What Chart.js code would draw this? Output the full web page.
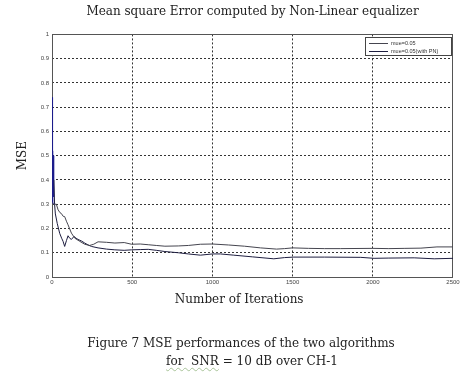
<!DOCTYPE html>
<html>
<head>
<meta charset="utf-8">
<script src="https://cdn.jsdelivr.net/npm/chart.js@4/dist/chart.umd.min.js"></script>
<style>
  html, body { margin: 0; padding: 0; background: #fff; }
  #wrap { position: relative; width: 474px; height: 379px; overflow: hidden; }
  #c { position: absolute; left: 0; top: 0; }
  .cap { position: absolute; width: 474px; text-align: center; font-family: 'DejaVu Serif', serif; font-size: 12px; line-height: 18px; color: #222; white-space: pre; }
  .sp { text-decoration: underline wavy #a9c49a; text-decoration-thickness: 1px; text-underline-offset: 2px; }
</style>
</head>
<body>
<div id="wrap">
  <canvas id="c" width="474" height="379"></canvas>
  <div class="cap" id="cap1" style="left:4px; top:334px;"></div>
  <div class="cap" id="cap2" style="left:15px; top:352px;"></div>
</div>
<script>
// ---- data ----
const seriesLabels = ['mue=0.05', 'mue=0.05(with PN)'];
const iterA = [0, 2, 4, 6, 9, 27, 38, 50, 58, 70, 79, 90, 100, 121, 142, 173, 204, 235, 260, 287, 340, 392, 450, 496, 550, 600, 650, 704, 787, 850, 925, 1000, 1100, 1200, 1300, 1400, 1450, 1500, 1600, 1700, 1800, 2000, 2100, 2200, 2300, 2400, 2500];
const mseA  = [0.52, 0.36, 0.44, 0.31, 0.30, 0.30, 0.277, 0.265, 0.262, 0.25, 0.249, 0.23, 0.215, 0.181, 0.16, 0.147, 0.135, 0.13, 0.135, 0.145, 0.143, 0.14, 0.142, 0.135, 0.136, 0.133, 0.13, 0.127, 0.128, 0.13, 0.135, 0.136, 0.132, 0.127, 0.12, 0.115, 0.117, 0.12, 0.118, 0.117, 0.117, 0.118, 0.117, 0.118, 0.119, 0.124, 0.124];
const iterB = [1, 2, 3, 5, 7, 9, 12, 16, 21, 33, 48, 60, 69, 79, 90, 100, 110, 121, 137, 150, 162, 185, 204, 225, 246, 287, 340, 392, 450, 496, 550, 600, 650, 704, 787, 850, 925, 1000, 1050, 1133, 1250, 1383, 1450, 1508, 1700, 1925, 2008, 2100, 2258, 2383, 2500];
const mseB  = [0.74, 0.42, 0.57, 0.36, 0.50, 0.33, 0.40, 0.30, 0.26, 0.22, 0.18, 0.16, 0.147, 0.126, 0.15, 0.17, 0.16, 0.155, 0.167, 0.16, 0.155, 0.148, 0.14, 0.132, 0.126, 0.12, 0.115, 0.112, 0.11, 0.112, 0.113, 0.114, 0.11, 0.105, 0.1, 0.095, 0.09, 0.095, 0.095, 0.09, 0.083, 0.075, 0.08, 0.082, 0.082, 0.081, 0.077, 0.078, 0.079, 0.075, 0.077];
const xTicks = [0, 500, 1000, 1500, 2000, 2500];
const yTicks = [0, 0.1, 0.2, 0.3, 0.4, 0.5, 0.6, 0.7, 0.8, 0.9, 1];
const titleText = 'Mean square Error computed by Non-Linear equalizer';
const xTitle = 'Number of Iterations';
const yTitle = 'MSE';
const captionLine1 = 'Figure 7 MSE performances of the two algorithms';
const captionLine2a = 'for  SNR';
const captionLine2b = ' = 10 dB over CH-1';
const lineColors = ['#45454f', '#1e1e40'];
const earlyColor = '#1c1c8c';

document.getElementById('cap1').textContent = captionLine1;
(function () {
  const c2 = document.getElementById('cap2');
  const s = document.createElement('span');
  s.className = 'sp';
  s.textContent = captionLine2a;
  c2.appendChild(s);
  c2.appendChild(document.createTextNode(captionLine2b));
})();

const serif = "'DejaVu Serif', serif";
const sans = "'Liberation Sans', Arial, sans-serif";

const toPts = (xs, ys) => xs.map((x, i) => ({x: x, y: ys[i]}));

const framePlugin = {
  id: 'frame',
  beforeDatasetsDraw(chart) {
    const {ctx, chartArea: a} = chart;
    ctx.save();
    ctx.strokeStyle = '#555';
    ctx.lineWidth = 1;
    ctx.setLineDash([]);
    ctx.strokeRect(Math.round(a.left) + 0.5, Math.round(a.top) + 0.5, Math.round(a.right - a.left) - 1, Math.round(a.bottom - a.top));
    ctx.restore();
  }
};

const legendPlugin = {
  id: 'boxLegend',
  afterDraw(chart) {
    const {ctx, chartArea: a} = chart;
    ctx.save();
    const bx = Math.round(a.right) - 88, by = Math.round(a.top) + 3, bw = 86, bh = 18;
    ctx.fillStyle = '#fff';
    ctx.fillRect(bx, by, bw, bh);
    ctx.strokeStyle = '#444';
    ctx.lineWidth = 1;
    ctx.strokeRect(bx + 0.5, by + 0.5, bw, bh);
    ctx.font = '5.5px ' + sans;
    ctx.textBaseline = 'middle';
    ctx.textAlign = 'left';
    chart.data.datasets.forEach((ds, i) => {
      const ry = by + 5.5 + i * 8.5;
      ctx.strokeStyle = ds.borderColor;
      ctx.beginPath();
      ctx.moveTo(bx + 4, Math.round(ry) + 0.5);
      ctx.lineTo(bx + 23, Math.round(ry) + 0.5);
      ctx.stroke();
      ctx.fillStyle = '#333';
      ctx.fillText(ds.label, bx + 26, ry + 0.5);
    });
    ctx.restore();
  }
};

const edgeColor = (vals) => (c) => {
  const v = c.tick ? c.tick.value : null;
  if (v === null) return '#333';
  const lo = vals[0], hi = vals[vals.length - 1];
  if (Math.abs(v - lo) < 1e-9 || Math.abs(v - hi) < 1e-9) return 'rgba(0,0,0,0)';
  return '#333';
};

const earlySeg = { borderColor: (c) => (c.p1.parsed.x <= 12 ? earlyColor : undefined) };

new Chart(document.getElementById('c'), {
  type: 'line',
  data: {
    datasets: [
      { label: seriesLabels[0], data: toPts(iterA, mseA), borderColor: lineColors[0], borderWidth: 1, pointRadius: 0, tension: 0, fill: false, segment: earlySeg },
      { label: seriesLabels[1], data: toPts(iterB, mseB), borderColor: lineColors[1], borderWidth: 1, pointRadius: 0, tension: 0, fill: false, segment: earlySeg }
    ]
  },
  options: {
    responsive: false,
    animation: false,
    devicePixelRatio: 1,
    layout: { padding: { left: 0, right: 21, top: 0, bottom: 45 } },
    plugins: {
      legend: { display: false },
      tooltip: { enabled: false },
      title: {
        display: true, text: titleText, color: '#222', fullSize: false,
        font: { family: serif, size: 12, weight: 'normal', lineHeight: 1.2 },
        padding: { top: 5, bottom: 15 }
      }
    },
    scales: {
      x: {
        type: 'linear', min: xTicks[0], max: xTicks[xTicks.length - 1],
        afterBuildTicks: (s) => { s.ticks = xTicks.map(v => ({value: v})); },
        afterFit: (s) => { s.height = 57; },
        ticks: { font: { family: sans, size: 6 }, color: '#444', padding: 2, maxRotation: 0, autoSkip: false, callback: (v) => String(v) },
        grid: { color: edgeColor(xTicks), lineWidth: 1, drawTicks: false, borderDash: [2, 2] },
        border: { display: false, dash: [2, 2] },
        title: { display: true, text: xTitle + '       ', color: '#222', font: { family: serif, size: 12, lineHeight: 1.2 }, padding: { top: 0, bottom: 27 } }
      },
      y: {
        type: 'linear', min: yTicks[0], max: yTicks[yTicks.length - 1],
        afterBuildTicks: (s) => { s.ticks = yTicks.map(v => ({value: v})); },
        afterFit: (s) => { s.width = 52; },
        ticks: { font: { family: sans, size: 6 }, color: '#444', padding: 3, callback: (v) => String(+(+v).toFixed(1)) },
        grid: { color: edgeColor(yTicks), lineWidth: 1, drawTicks: false, borderDash: [2, 2] },
        border: { display: false, dash: [2, 2] },
        title: { display: true, text: yTitle, color: '#222', font: { family: serif, size: 12, lineHeight: 1.2 }, padding: { top: 16, bottom: 0 } }
      }
    }
  },
  plugins: [framePlugin, legendPlugin]
});
</script>
</body>
</html>
